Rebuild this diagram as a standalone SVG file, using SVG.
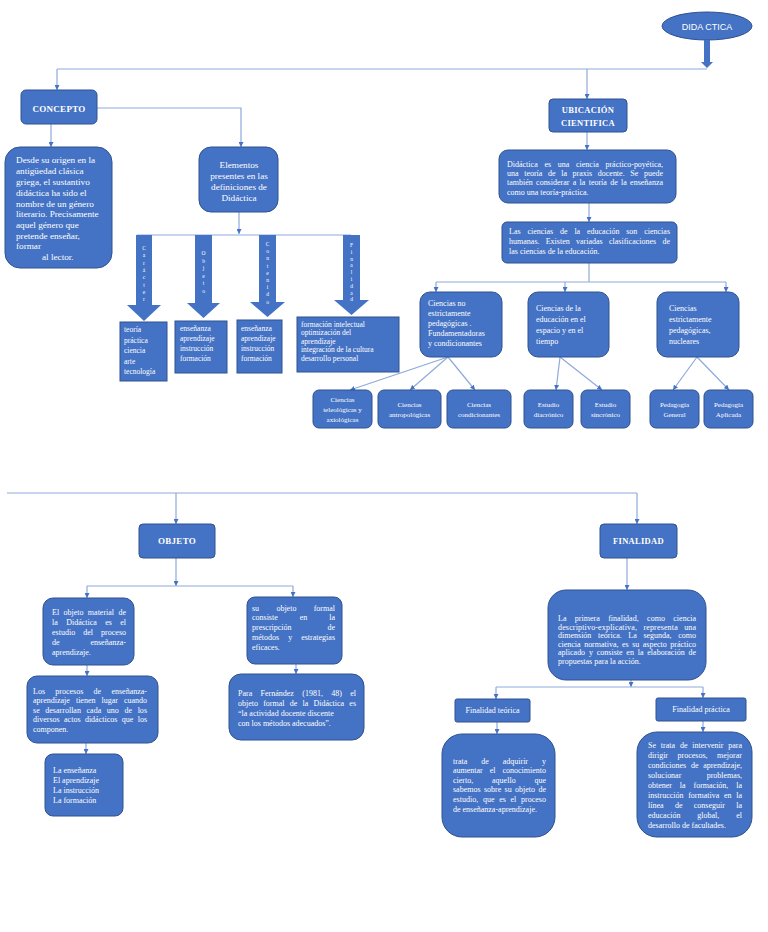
<svg xmlns="http://www.w3.org/2000/svg" width="768" height="932" viewBox="0 0 768 932">
<defs>
<marker id="ah" viewBox="0 0 6 6" refX="6" refY="3" markerWidth="5" markerHeight="5" markerUnits="userSpaceOnUse" orient="auto">
<path d="M0,0 L6,3 L0,6 z" fill="#4472C4"/>
</marker>
<style>
.n{fill:#4472C4;stroke:#2F528F;stroke-width:1}
.c{fill:none;stroke:#8EA9DB;stroke-width:1.2}
.a{marker-end:url(#ah)}
.t{font-family:"Liberation Serif","Times New Roman",serif;fill:#fff;font-size:8px}
.m{font-size:9.2px}
.h{font-weight:bold;font-size:9px;letter-spacing:0.3px}
.s{font-size:8px}
.l{font-size:7.5px}
.v{font-size:5.5px;text-anchor:middle}
.ctr{text-anchor:middle}
.sans{font-family:"Liberation Sans",Arial,sans-serif;fill:#fff;font-size:9px;text-anchor:middle}
</style>
</defs>
<rect width="768" height="932" fill="#fff"/>

<g id="connectors">
<path class="c" d="M57,69 H707"/>
<path class="c a" d="M57,69 V90"/>
<path class="c a" d="M587,69 V99"/>
<path class="c a" d="M97,108 H241 V147"/>
<path class="c a" d="M51,124 V147"/>
<path class="c a" d="M587,132 V150"/>
<path class="c a" d="M589,203 V222"/>
<path class="c a" d="M239,212 V234"/>
<path class="c" d="M137,235 H351"/>
<path class="c" d="M589,263 V282"/>
<path class="c" d="M436,282 H726"/>
<path class="c a" d="M436,282 V292"/>
<path class="c a" d="M565,282 V292"/>
<path class="c a" d="M726,282 V292"/>
<path class="c a" d="M448,357 L350,390"/>
<path class="c a" d="M448,357 L410,390"/>
<path class="c a" d="M448,357 L475,390"/>
<path class="c a" d="M560,357 L556,390"/>
<path class="c a" d="M560,357 L602,390"/>
<path class="c a" d="M697,357 L673,390"/>
<path class="c a" d="M697,357 L729,390"/>
<path class="c" d="M7,493 H637"/>
<path class="c a" d="M176,493 V524"/>
<path class="c a" d="M637,493 V524"/>
<path class="c a" d="M176,558 V586"/>
<path class="c" d="M87,586 H293"/>
<path class="c a" d="M87,586 V598"/>
<path class="c a" d="M293,586 V597"/>
<path class="c a" d="M87,665 V676"/>
<path class="c a" d="M86,743 V754"/>
<path class="c a" d="M296,664 V674"/>
<path class="c a" d="M627,558 V590"/>
<path class="c a" d="M631,680 V687"/>
<path class="c" d="M496,687 H703"/>
<path class="c a" d="M496,687 V699"/>
<path class="c a" d="M703,687 V698"/>
<path class="c a" d="M497,722 V734"/>
<path class="c a" d="M703,721 V732"/>
</g>

<g id="didactica">
<ellipse class="n" cx="707" cy="26" rx="45" ry="14"/>
<text class="sans" x="707" y="29.5">DIDA CTICA</text>
<path d="M704,40 H710 V62 H713 L707,68 L701,62 H704 Z" fill="#4472C4"/>
</g>

<g id="concepto">
<rect class="n" x="21" y="90" width="76" height="34" rx="5"/>
<text class="t h ctr" x="59" y="111.5">CONCEPTO</text>
</g>

<g id="desde">
<rect class="n" x="5" y="147" width="107" height="121" rx="15"/>
<text class="t m" x="16" y="163">Desde su origen en la</text>
<text class="t m" x="16" y="174">antigüedad clásica</text>
<text class="t m" x="16" y="185">griega, el sustantivo</text>
<text class="t m" x="16" y="196">didáctica ha sido el</text>
<text class="t m" x="16" y="207">nombre de un género</text>
<text class="t m" x="16" y="217">literario. Precisamente</text>
<text class="t m" x="16" y="228">aquel género que</text>
<text class="t m" x="16" y="239">pretende enseñar,</text>
<text class="t m" x="16" y="249">formar</text>
<text class="t m" x="42" y="260">al lector.</text>
</g>

<g id="elementos">
<rect class="n" x="199" y="147" width="79" height="65" rx="12"/>
<text class="t m ctr" x="239" y="168">Elementos</text>
<text class="t m ctr" x="239" y="179">presentes en las</text>
<text class="t m ctr" x="239" y="190">definiciones de</text>
<text class="t m ctr" x="239" y="200.5">Didáctica</text>
</g>

<g id="arrow-caracter">
<path d="M136,235 H152 V305 H161 L144,321 L127,305 H136 Z" fill="#4472C4"/>
<text class="t v" x="144" y="250">C</text><text class="t v" x="144" y="257.3">a</text><text class="t v" x="144" y="264.6">r</text><text class="t v" x="144" y="271.9">á</text><text class="t v" x="144" y="279.2">c</text><text class="t v" x="144" y="286.5">t</text><text class="t v" x="144" y="293.8">e</text><text class="t v" x="144" y="301.1">r</text>
</g>
<g id="arrow-objeto">
<path d="M195,235 H212 V303 H220 L203.5,318 L187,303 H195 Z" fill="#4472C4"/>
<text class="t v" x="203.5" y="255">O</text><text class="t v" x="203.5" y="262.5">b</text><text class="t v" x="203.5" y="270">j</text><text class="t v" x="203.5" y="277.5">e</text><text class="t v" x="203.5" y="285">t</text><text class="t v" x="203.5" y="292.5">o</text>
</g>
<g id="arrow-contenido">
<path d="M259,235 H276 V302 H285 L267.5,317 L250,302 H259 Z" fill="#4472C4"/>
<text class="t v" x="267.5" y="246">C</text><text class="t v" x="267.5" y="253.2">o</text><text class="t v" x="267.5" y="260.4">n</text><text class="t v" x="267.5" y="267.6">t</text><text class="t v" x="267.5" y="274.8">e</text><text class="t v" x="267.5" y="282">n</text><text class="t v" x="267.5" y="289.2">i</text><text class="t v" x="267.5" y="296.4">d</text><text class="t v" x="267.5" y="303.6">o</text>
</g>
<g id="arrow-finalidad">
<path d="M343,235 H360 V300 H369 L351.5,315 L334,300 H343 Z" fill="#4472C4"/>
<text class="t v" x="351.5" y="247">F</text><text class="t v" x="351.5" y="253.8">i</text><text class="t v" x="351.5" y="260.6">n</text><text class="t v" x="351.5" y="267.4">a</text><text class="t v" x="351.5" y="274.2">l</text><text class="t v" x="351.5" y="281">i</text><text class="t v" x="351.5" y="287.8">d</text><text class="t v" x="351.5" y="294.6">a</text><text class="t v" x="351.5" y="301.4">d</text>
</g>

<g id="caracter-list">
<rect class="n" x="120" y="322" width="47" height="59"/>
<text class="t l" x="124" y="332">teoría</text>
<text class="t l" x="124" y="342.5">práctica</text>
<text class="t l" x="124" y="353">ciencia</text>
<text class="t l" x="124" y="363.5">arte</text>
<text class="t l" x="124" y="374">tecnología</text>
</g>
<g id="objeto-list">
<rect class="n" x="175" y="321" width="52" height="52"/>
<text class="t l" x="180" y="331">enseñanza</text>
<text class="t l" x="180" y="341">aprendizaje</text>
<text class="t l" x="180" y="351">instrucción</text>
<text class="t l" x="180" y="361">formación</text>
</g>
<g id="contenido-list">
<rect class="n" x="237" y="320" width="45" height="53"/>
<text class="t l" x="241" y="331">enseñanza</text>
<text class="t l" x="241" y="341">aprendizaje</text>
<text class="t l" x="241" y="351">instrucción</text>
<text class="t l" x="241" y="361">formación</text>
</g>
<g id="finalidad-list">
<rect class="n" x="297" y="317" width="102" height="55"/>
<text class="t l" x="301" y="326.5">formación intelectual</text>
<text class="t l" x="301" y="335">optimización del</text>
<text class="t l" x="301" y="343.5">aprendizaje</text>
<text class="t l" x="301" y="352">integración de la cultura</text>
<text class="t l" x="301" y="360.5">desarrollo personal</text>
</g>

<g id="ubicacion">
<rect class="n" x="549" y="99" width="78" height="33" rx="4"/>
<text class="t h ctr" x="588" y="113" style="font-size:8.5px">UBICACIÓN</text>
<text class="t h ctr" x="588" y="126" style="font-size:8.5px">CIENTIFICA</text>
</g>

<g id="didactica-ciencia">
<rect class="n" x="499" y="150" width="177" height="53" rx="9"/>
<text class="t" x="507" y="166.5" textLength="156" lengthAdjust="spacing" style="word-spacing:4.7px">Didáctica es una ciencia práctico-poyética,</text>
<text class="t" x="507" y="175.5" textLength="156" lengthAdjust="spacing" style="word-spacing:3.6px">una teoría de la praxis docente. Se puede</text>
<text class="t" x="507" y="185" textLength="156" lengthAdjust="spacing" style="word-spacing:1.3px">también considerar a la teoría de la enseñanza</text>
<text class="t" x="507" y="194.5">como una teoría-práctica.</text>
</g>

<g id="ciencias-educacion">
<rect class="n" x="502" y="222" width="175" height="41" rx="5"/>
<text class="t" x="509" y="234" textLength="161" lengthAdjust="spacing" style="word-spacing:4.8px">Las ciencias de la educación son ciencias</text>
<text class="t" x="509" y="244" textLength="161" lengthAdjust="spacing" style="word-spacing:4.2px">humanas. Existen variadas clasificaciones de</text>
<text class="t" x="509" y="254">las ciencias de la educación.</text>
</g>

<g id="no-estrictamente">
<rect class="n" x="420" y="292" width="82" height="65" rx="10"/>
<text class="t s" x="428" y="306">Ciencias no</text>
<text class="t s" x="428" y="316">estrictamente</text>
<text class="t s" x="428" y="326">pedagógicas .</text>
<text class="t s" x="428" y="336">Fundamentadoras</text>
<text class="t s" x="428" y="346">y condicionantes</text>
</g>
<g id="espacio-tiempo">
<rect class="n" x="528" y="292" width="81" height="65" rx="10"/>
<text class="t s" x="536" y="311">Ciencias de la</text>
<text class="t s" x="536" y="322">educación en el</text>
<text class="t s" x="536" y="333">espacio y en el</text>
<text class="t s" x="536" y="344">tiempo</text>
</g>
<g id="estrictamente">
<rect class="n" x="657" y="292" width="82" height="65" rx="10"/>
<text class="t s" x="669" y="311">Ciencias</text>
<text class="t s" x="669" y="322">estrictamente</text>
<text class="t s" x="669" y="333">pedagógicas,</text>
<text class="t s" x="669" y="344">nucleares</text>
</g>

<g id="teleologicas">
<rect class="n" x="313" y="390" width="59" height="38" rx="6"/>
<text class="t ctr" style="font-size:7px" x="342.5" y="401.5">Ciencias</text>
<text class="t ctr" style="font-size:7px" x="342.5" y="411.5">teleológicas y</text>
<text class="t ctr" style="font-size:7px" x="342.5" y="421.5">axiológicas</text>
</g>
<g id="antropologicas">
<rect class="n" x="378" y="390" width="63" height="38" rx="6"/>
<text class="t ctr" style="font-size:7px" x="409.5" y="406.5">Ciencias</text>
<text class="t ctr" style="font-size:7px" x="409.5" y="416.5">antropológicas</text>
</g>
<g id="condicionantes">
<rect class="n" x="447" y="390" width="64" height="38" rx="6"/>
<text class="t ctr" style="font-size:7px" x="479" y="406.5">Ciencias</text>
<text class="t ctr" style="font-size:7px" x="479" y="416.5">condicionantes</text>
</g>
<g id="diacronico">
<rect class="n" x="524" y="390" width="49" height="38" rx="6"/>
<text class="t ctr" style="font-size:7px" x="548.5" y="406.5">Estudio</text>
<text class="t ctr" style="font-size:7px" x="548.5" y="416.5">diacrónico</text>
</g>
<g id="sincronico">
<rect class="n" x="581" y="390" width="49" height="38" rx="6"/>
<text class="t ctr" style="font-size:7px" x="605.5" y="406.5">Estudio</text>
<text class="t ctr" style="font-size:7px" x="605.5" y="416.5">sincrónico</text>
</g>
<g id="pedagogia-general">
<rect class="n" x="650" y="390" width="49" height="38" rx="6"/>
<text class="t ctr" style="font-size:7px" x="674.5" y="406.5">Pedagogía</text>
<text class="t ctr" style="font-size:7px" x="674.5" y="416.5">General</text>
</g>
<g id="pedagogia-aplicada">
<rect class="n" x="704" y="390" width="49" height="38" rx="6"/>
<text class="t ctr" style="font-size:7px" x="728.5" y="406.5">Pedagogía</text>
<text class="t ctr" style="font-size:7px" x="728.5" y="416.5">Aplicada</text>
</g>

<g id="objeto">
<rect class="n" x="139" y="524" width="76" height="34" rx="4"/>
<text class="t h ctr" x="177" y="544">OBJETO</text>
</g>

<g id="objeto-material">
<rect class="n" x="43" y="598" width="91" height="67" rx="10"/>
<text class="t" x="52" y="614.5" textLength="74" lengthAdjust="spacing" style="word-spacing:2.4px">El objeto material de</text>
<text class="t" x="52" y="624.5" textLength="74" lengthAdjust="spacing" style="word-spacing:6.4px">la Didáctica es el</text>
<text class="t" x="52" y="634.5" textLength="74" lengthAdjust="spacing" style="word-spacing:6.1px">estudio del proceso</text>
<text class="t" x="52" y="644.5" textLength="74" lengthAdjust="spacing" style="word-spacing:28.9px">de enseñanza-</text>
<text class="t" x="52" y="654.5">aprendizaje.</text>
</g>

<g id="procesos">
<rect class="n" x="27" y="676" width="131" height="67" rx="10"/>
<text class="t" x="33" y="693.5" textLength="114" lengthAdjust="spacing" style="word-spacing:8.3px">Los procesos de enseñanza-</text>
<text class="t" x="33" y="703" textLength="114" lengthAdjust="spacing" style="word-spacing:4px">aprendizaje tienen lugar cuando</text>
<text class="t" x="33" y="712.5" textLength="114" lengthAdjust="spacing" style="word-spacing:3.6px">se desarrollan cada uno de los</text>
<text class="t" x="33" y="722" textLength="114" lengthAdjust="spacing" style="word-spacing:2.4px">diversos actos didácticos que los</text>
<text class="t" x="33" y="731.5">componen.</text>
</g>

<g id="lista-procesos">
<rect class="n" x="45" y="754" width="78" height="62" rx="8"/>
<text class="t s" x="53" y="772.5">La enseñanza</text>
<text class="t s" x="53" y="782.5">El aprendizaje</text>
<text class="t s" x="53" y="792.5">La instrucción</text>
<text class="t s" x="53" y="803">La formación</text>
</g>

<g id="objeto-formal">
<rect class="n" x="247" y="597" width="95" height="67" rx="8"/>
<text class="t" x="252" y="610.5" textLength="83" lengthAdjust="spacing" style="word-spacing:15.3px">su objeto formal</text>
<text class="t" x="252" y="620" textLength="83" lengthAdjust="spacing" style="word-spacing:20px">consiste en la</text>
<text class="t" x="252" y="630" textLength="83" lengthAdjust="spacing" style="word-spacing:33.9px">prescripción de</text>
<text class="t" x="252" y="640" textLength="83" lengthAdjust="spacing" style="word-spacing:7px">métodos y estrategias</text>
<text class="t" x="252" y="650">eficaces.</text>
</g>

<g id="fernandez">
<rect class="n" x="229" y="674" width="135" height="66" rx="12"/>
<text class="t" x="238" y="695.5" textLength="118" lengthAdjust="spacing" style="word-spacing:6.3px">Para Fernández (1981, 48) el</text>
<text class="t" x="238" y="705.5" textLength="118" lengthAdjust="spacing" style="word-spacing:3.2px">objeto formal de la Didáctica es</text>
<text class="t" x="238" y="715.5">“la actividad docente discente</text>
<text class="t" x="238" y="725.5">con los métodos adecuados”.</text>
</g>

<g id="finalidad">
<rect class="n" x="600" y="524" width="77" height="34" rx="4"/>
<text class="t h ctr" x="638.5" y="544" style="font-size:8.5px">FINALIDAD</text>
</g>

<g id="primera-finalidad">
<rect class="n" x="548" y="590" width="158" height="90" rx="18"/>
<text class="t" x="558" y="620.5" textLength="138" lengthAdjust="spacing" style="word-spacing:6.4px">La primera finalidad, como ciencia</text>
<text class="t" x="558" y="629.5" textLength="138" lengthAdjust="spacing" style="word-spacing:4.1px">descriptivo-explicativa, representa una</text>
<text class="t" x="558" y="638" textLength="138" lengthAdjust="spacing" style="word-spacing:4.6px">dimensión teórica. La segunda, como</text>
<text class="t" x="558" y="646.5" textLength="138" lengthAdjust="spacing" style="word-spacing:1.5px">ciencia normativa, es su aspecto práctico</text>
<text class="t" x="558" y="655" textLength="138" lengthAdjust="spacing" style="word-spacing:1.8px">aplicado y consiste en la elaboración de</text>
<text class="t" x="558" y="663.5">propuestas para la acción.</text>
</g>

<g id="finalidad-teorica">
<rect class="n" x="455" y="699" width="75" height="23" rx="2"/>
<text class="t ctr" x="492.5" y="713">Finalidad teórica</text>
</g>
<g id="finalidad-practica">
<rect class="n" x="656" y="698" width="90" height="23" rx="2"/>
<text class="t ctr" x="701" y="712">Finalidad práctica</text>
</g>

<g id="trata">
<rect class="n" x="442" y="734" width="113" height="103" rx="20"/>
<text class="t" x="453" y="763.5" textLength="93" lengthAdjust="spacing" style="word-spacing:12px">trata de adquirir y</text>
<text class="t" x="453" y="773" textLength="93" lengthAdjust="spacing" style="word-spacing:5px">aumentar el conocimiento</text>
<text class="t" x="453" y="782.5" textLength="93" lengthAdjust="spacing" style="word-spacing:16.8px">cierto, aquello que</text>
<text class="t" x="453" y="792" textLength="93" lengthAdjust="spacing" style="word-spacing:1.4px">sabemos sobre su objeto de</text>
<text class="t" x="453" y="801.5" textLength="93" lengthAdjust="spacing" style="word-spacing:2.7px">estudio, que es el proceso</text>
<text class="t" x="453" y="811.5">de enseñanza-aprendizaje.</text>
</g>

<g id="se-trata">
<rect class="n" x="637" y="732" width="115" height="105" rx="20"/>
<text class="t" x="648" y="747.5" textLength="94" lengthAdjust="spacing" style="word-spacing:2.8px">Se trata de intervenir para</text>
<text class="t" x="648" y="757.5" textLength="94" lengthAdjust="spacing" style="word-spacing:7.5px">dirigir procesos, mejorar</text>
<text class="t" x="648" y="767.5" textLength="94" lengthAdjust="spacing" style="word-spacing:2.7px">condiciones de aprendizaje,</text>
<text class="t" x="648" y="777.5" textLength="94" lengthAdjust="spacing" style="word-spacing:23.3px">solucionar problemas,</text>
<text class="t" x="648" y="787.5" textLength="94" lengthAdjust="spacing" style="word-spacing:5.9px">obtener la formación, la</text>
<text class="t" x="648" y="797.5" textLength="94" lengthAdjust="spacing" style="word-spacing:2.7px">instrucción formativa en la</text>
<text class="t" x="648" y="807.5" textLength="94" lengthAdjust="spacing" style="word-spacing:9.3px">línea de conseguir la</text>
<text class="t" x="648" y="817.5" textLength="94" lengthAdjust="spacing" style="word-spacing:14.9px">educación global, el</text>
<text class="t" x="648" y="827.5">desarrollo de facultades.</text>
</g>
</svg>
